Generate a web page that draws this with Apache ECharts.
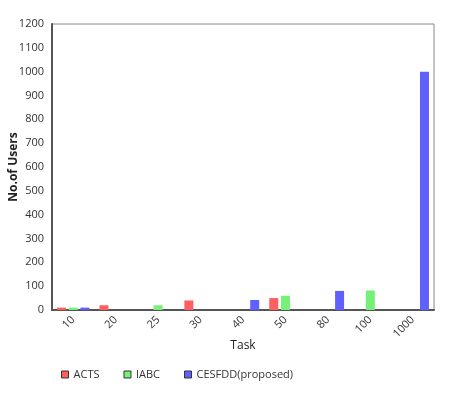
<!DOCTYPE html>
<html><head><meta charset="utf-8">
<script src="https://cdn.jsdelivr.net/npm/echarts@6/dist/echarts.min.js"></script>
<style>html,body{margin:0;padding:0;background:#fff}#c{width:474px;height:395px}</style>
</head><body><div id="c"></div>
<script>
const categories = ['10','20','25','30','40','50','80','100','1000'];
const acts = [10, 20, null, 40, null, 50, null, null, null];
const iabc = [10, null, 20, null, null, 60, null, 82, null];
const cesfdd = [10, null, null, null, 42, null, 80, null, 1000];
const yTicks = [0, 1200, 100];

const font = '"Open Sans", "DejaVu Sans", sans-serif';
const chart = echarts.init(document.getElementById('c'));
function s(name, data, color) {
  return { name, type: 'bar', data, barWidth: 9, barGap: '30%',
    itemStyle: { color }, animation: false };
}
chart.setOption({
  animation: false,
  textStyle: { fontFamily: font },
  grid: { left: 52, right: 40, top: 24, bottom: 85, show: true, borderColor: '#888', borderWidth: 1,
    containLabel: false, outerBoundsMode: 'none' },
  legend: {
    left: 56, top: 364, icon: 'rect', itemWidth: 7, itemHeight: 7, itemGap: 24,
    textStyle: { fontFamily: font, fontSize: 11, color: '#333' },
    data: [
      { name: 'ACTS', itemStyle: { borderColor: '#333', borderWidth: 1 } },
      { name: 'IABC', itemStyle: { borderColor: '#333', borderWidth: 1 } },
      { name: 'CESFDD(proposed)', itemStyle: { borderColor: '#333', borderWidth: 1 } }
    ]
  },
  xAxis: {
    type: 'category', data: categories,
    name: 'Task', nameLocation: 'middle', nameGap: 30, nameMoveOverlap: false,
    nameTextStyle: { fontFamily: font, fontSize: 12, color: '#222' },
    axisLine: { lineStyle: { color: '#555', width: 2 } },
    axisTick: { show: false },
    axisLabel: { rotate: 45, fontFamily: font, fontSize: 11, color: '#333', margin: 8 },
    splitLine: { show: false }
  },
  yAxis: {
    type: 'value', min: yTicks[0], max: yTicks[1], interval: yTicks[2],
    name: 'No.of Users', nameLocation: 'middle', nameGap: 32, nameMoveOverlap: false,
    nameTextStyle: { fontFamily: font, fontSize: 12, fontWeight: 'bold', color: '#222' },
    axisLine: { show: true, lineStyle: { color: '#555', width: 2 } },
    axisTick: { show: false },
    axisLabel: { fontFamily: font, fontSize: 11, color: '#333', margin: 8, formatter: v => String(v) },
    splitLine: { show: false }
  },
  series: [
    s('ACTS', acts, '#ff5f5f'),
    s('IABC', iabc, '#77f077'),
    s('CESFDD(proposed)', cesfdd, '#6060ff')
  ]
});
</script></body></html>
